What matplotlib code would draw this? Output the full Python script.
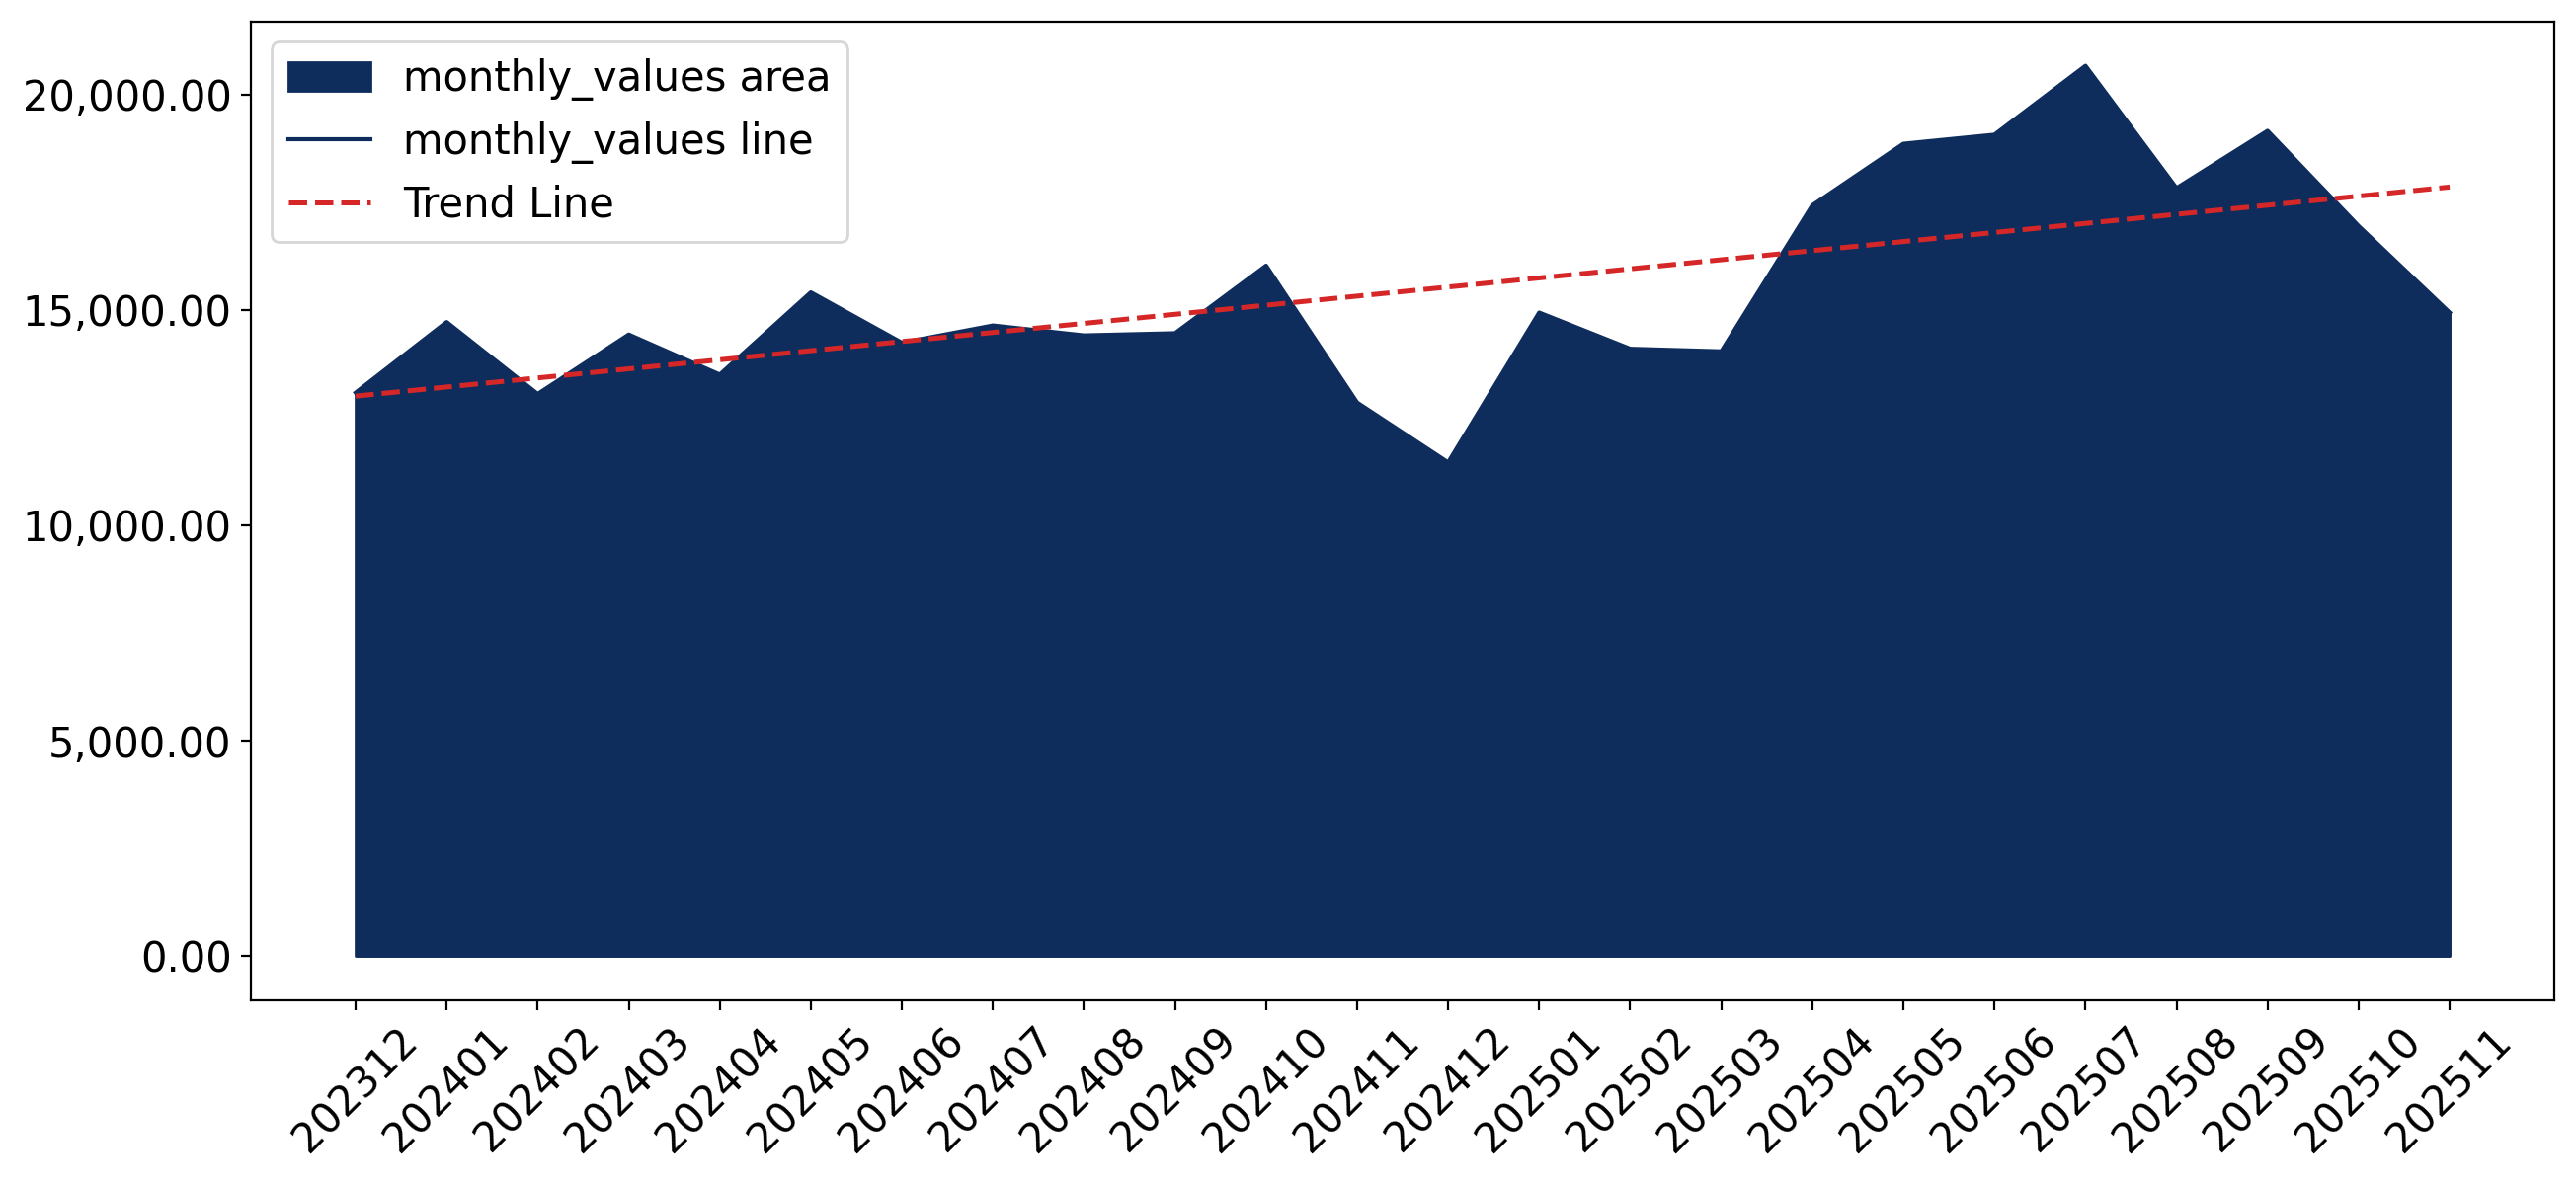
import numpy as np
import matplotlib
matplotlib.use('Agg')
import matplotlib.pyplot as plt
from matplotlib.ticker import StrMethodFormatter

months = ['202312', '202401', '202402', '202403', '202404', '202405', '202406',
          '202407', '202408', '202409', '202410', '202411', '202412', '202501',
          '202502', '202503', '202504', '202505', '202506', '202507', '202508',
          '202509', '202510', '202511']
monthly_values = [13080, 14720, 13050, 14430, 13500, 15410, 14240, 14640,
                  14410, 14460, 16030, 12850, 11460, 14940, 14100, 14040,
                  17430, 18860, 19070, 20670, 17830, 19160, 16950, 14940]

navy = '#0f2d5c'
red = '#d62728'


def main():
    x = np.arange(len(months))
    y = np.array(monthly_values, dtype=float)

    fig, ax = plt.subplots(figsize=(13.04, 5.995), dpi=200)
    plt.subplots_adjust(left=0.0974, right=0.9916, top=0.982, bottom=0.155)

    ax.fill_between(x, y, color=navy, label='monthly_values area')
    ax.plot(x, y, color=navy, linewidth=1.5, label='monthly_values line')

    # linear trend
    coef = np.polyfit(x, y, 1)
    ax.plot(x, np.polyval(coef, x), color=red, linestyle='--', linewidth=1.8,
            label='Trend Line')

    ax.set_xticks(x)
    ax.set_xticklabels(months, rotation=45, fontsize=15)
    ax.yaxis.set_major_formatter(StrMethodFormatter('{x:,.2f}'))
    ax.tick_params(axis='y', labelsize=15)
    ax.legend(loc='upper left', fontsize=15)

    fig.savefig('out.png', dpi=200)
    plt.close()


if __name__ == "__main__":
    main()
